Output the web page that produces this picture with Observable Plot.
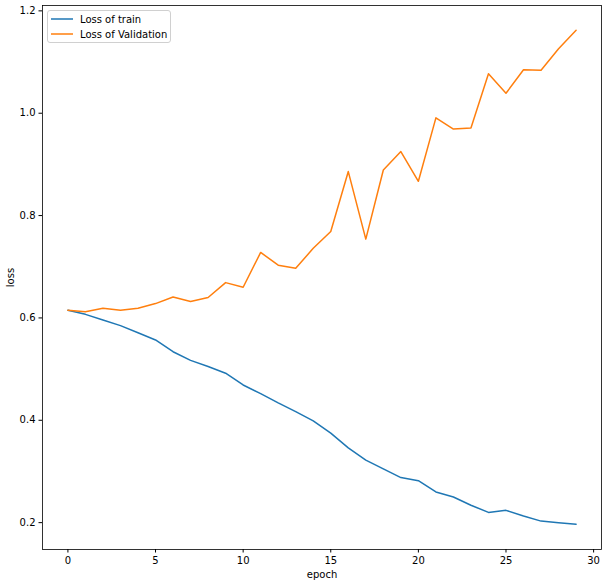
<!DOCTYPE html>
<html>
<head>
<meta charset="utf-8">
<script src="https://cdn.jsdelivr.net/npm/d3@7"></script>
<script src="https://cdn.jsdelivr.net/npm/@observablehq/plot@0.6"></script>
<style>
  html, body { margin: 0; padding: 0; background: #fff; }
  #wrap { position: relative; width: 607px; height: 585px; font-family: "DejaVu Sans", sans-serif; }
  #legend { position: absolute; left: 47px; top: 10px; width: 122px; height: 31px; border: 1px solid #d0d0d0; border-radius: 3px; background: rgba(255,255,255,0.8); font-size: 10px; color: #000; }
  .item { position: absolute; left: 3px; height: 14px; display: flex; align-items: center; }
  .item svg { margin-right: 7px; }
</style>
</head>
<body>
<div id="wrap"><div id="legend"></div></div>
<script>
const epochs = d3.range(0, 30);
const trainLoss = [0.615, 0.607, 0.596, 0.585, 0.571, 0.557, 0.534, 0.517, 0.505, 0.492,
                   0.469, 0.452, 0.434, 0.417, 0.399, 0.375, 0.346, 0.322, 0.305, 0.288,
                   0.282, 0.260, 0.250, 0.234, 0.220, 0.224, 0.213, 0.203, 0.200, 0.197];
const valLoss = [0.615, 0.612, 0.619, 0.615, 0.619, 0.628, 0.641, 0.632, 0.640, 0.669,
                 0.660, 0.728, 0.703, 0.697, 0.736, 0.769, 0.886, 0.754, 0.889, 0.925,
                 0.867, 0.991, 0.969, 0.971, 1.077, 1.039, 1.085, 1.084, 1.126, 1.162];
const seriesNames = ["Loss of train", "Loss of Validation"];
const seriesColors = ["#1f77b4", "#ff7f0e"];
const xTicks = [0, 5, 10, 15, 20, 25, 30];
const yTicks = [0.2, 0.4, 0.6, 0.8, 1.0, 1.2];

const rows = [];
epochs.forEach((e, i) => {
  rows.push({epoch: e, loss: trainLoss[i], series: seriesNames[0]});
  rows.push({epoch: e, loss: valLoss[i], series: seriesNames[1]});
});

const chart = Plot.plot({
  width: 607,
  height: 585,
  marginLeft: 42,
  marginRight: 6,
  marginTop: 5,
  marginBottom: 36,
  style: {fontFamily: "DejaVu Sans, sans-serif", fontSize: "10px", color: "#000", background: "#fff"},
  x: {domain: [-1.45, 30.45]},
  y: {domain: [0.1475, 1.2105]},
  color: {domain: seriesNames, range: seriesColors},
  marks: [
    Plot.line(rows, {x: "epoch", y: "loss", z: "series", stroke: "series", strokeWidth: 1.5}),
    Plot.frame({stroke: "#000", strokeWidth: 0.8}),
    Plot.axisX({ticks: xTicks, tickSize: 3.5, tickPadding: 3.5, label: "epoch", labelAnchor: "center", labelOffset: 28, labelArrow: "none", fontSize: 10}),
    Plot.axisY({ticks: yTicks, tickSize: 3.5, tickPadding: 3.5, tickFormat: d3.format(".1f"), label: "loss", labelAnchor: "center", labelOffset: 36, labelArrow: "none", fontSize: 10})
  ]
});
document.getElementById("wrap").prepend(chart);

const legend = document.getElementById("legend");
seriesNames.forEach((name, i) => {
  const it = document.createElement("div");
  it.className = "item";
  it.style.top = (1 + i * 15) + "px";
  it.innerHTML = `<svg width="22" height="4"><line x1="0" y1="2" x2="22" y2="2" stroke="${seriesColors[i]}" stroke-width="1.5"/></svg><span>${name}</span>`;
  legend.appendChild(it);
});
</script>
</body>
</html>
